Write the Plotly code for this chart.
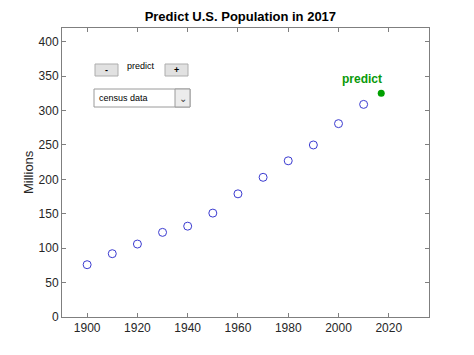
import plotly.graph_objects as go

years = [1900, 1910, 1920, 1930, 1940, 1950, 1960, 1970, 1980, 1990, 2000, 2010]
population = [76, 92, 106, 123, 132, 151, 179, 203, 227, 250, 281, 309]
predict_year = [2017]
predict_value = [325]
x_ticks = [1900, 1920, 1940, 1960, 1980, 2000, 2020]
y_ticks = [0, 50, 100, 150, 200, 250, 300, 350, 400]

OFF = 8  # default page body margin
W, H = 474 - OFF, 355 - OFF
L, R, T, B = 62 - OFF, 45, 28 - OFF, 38
PW, PH = W - L - R, H - T - B

def px(x):
    return (x - OFF - L) / PW

def py(y):
    return (H - B - (y - OFF)) / PH

fig = go.Figure()
fig.add_trace(go.Scatter(
    x=years, y=population, mode="markers",
    marker=dict(symbol="circle-open", size=8, color="#3b3bd0", line=dict(width=1)),
    showlegend=False, cliponaxis=False))
fig.add_trace(go.Scatter(
    x=predict_year, y=predict_value, mode="markers",
    marker=dict(symbol="circle", size=7, color="#00a000"),
    showlegend=False, cliponaxis=False))

axis_common = dict(showline=True, linecolor="#7f7f7f", linewidth=1, mirror="ticks",
                   ticks="inside", ticklen=4, tickcolor="#7f7f7f", showgrid=False, zeroline=False,
                   automargin=False,
                   tickfont=dict(family="Liberation Sans, Arial", size=12, color="#262626"))
fig.update_xaxes(range=[1890, 2036], tickvals=x_ticks, **axis_common)
fig.update_yaxes(range=[0, 420], tickvals=y_ticks, **axis_common)

shapes = []
annotations = []
# y-axis title
annotations.append(dict(xref="paper", yref="paper", x=px(28), y=py(172), text="Millions", textangle=-90,
                        showarrow=False, xanchor="center", yanchor="middle",
                        font=dict(family="Liberation Sans, Arial", size=13, color="#262626")))
# green label
annotations.append(dict(xref="x", yref="y", x=predict_year[0], y=predict_value[0], text="<b>predict</b>",
                        showarrow=False, xanchor="center", yanchor="bottom", xshift=-19, yshift=5,
                        font=dict(family="Liberation Sans, Arial", size=12, color="#0a9a0a")))
# buttons
for (x0, x1, label) in [(95, 118, "-"), (165, 188, "+")]:
    shapes.append(dict(type="rect", xref="paper", yref="paper", x0=px(x0), x1=px(x1), y0=py(76), y1=py(64),
                       fillcolor="#e1e1e1", line=dict(color="#adadad", width=1)))
    annotations.append(dict(xref="paper", yref="paper", x=px((x0 + x1) / 2), y=py(70), text="<b>" + label + "</b>",
                            showarrow=False, font=dict(family="Liberation Sans, Arial", size=9, color="#000000"),
                            xanchor="center", yanchor="middle"))
annotations.append(dict(xref="paper", yref="paper", x=px(141), y=py(66), text="predict", showarrow=False,
                        font=dict(family="Liberation Sans, Arial", size=9, color="#000000"),
                        xanchor="center", yanchor="middle"))
# dropdown
shapes.append(dict(type="rect", xref="paper", yref="paper", x0=px(94), x1=px(190), y0=py(107), y1=py(89),
                   fillcolor="#ffffff", line=dict(color="#9a9a9a", width=1)))
shapes.append(dict(type="rect", xref="paper", yref="paper", x0=px(175), x1=px(190), y0=py(107), y1=py(89),
                   fillcolor="#ececec", line=dict(color="#9a9a9a", width=1)))
annotations.append(dict(xref="paper", yref="paper", x=px(97), y=py(98), text="census data", showarrow=False,
                        font=dict(family="Liberation Sans, Arial", size=9, color="#000000"),
                        xanchor="left", yanchor="middle"))
annotations.append(dict(xref="paper", yref="paper", x=px(182.5), y=py(98), text="⌄", showarrow=False,
                        font=dict(family="DejaVu Sans", size=10, color="#444444"),
                        xanchor="center", yanchor="middle"))

fig.update_layout(
    width=W, height=H, margin=dict(l=L, r=R, t=T, b=B, autoexpand=False),
    paper_bgcolor="#ffffff", plot_bgcolor="#ffffff",
    title=dict(text="<b>Predict U.S. Population in 2017</b>", x=px(245), xanchor="center",
               y=1 - (16 - OFF) / H, yanchor="middle",
               font=dict(family="Liberation Sans, Arial", size=13, color="#000000")),
    shapes=shapes, annotations=annotations)

fig.write_html("out.html")
